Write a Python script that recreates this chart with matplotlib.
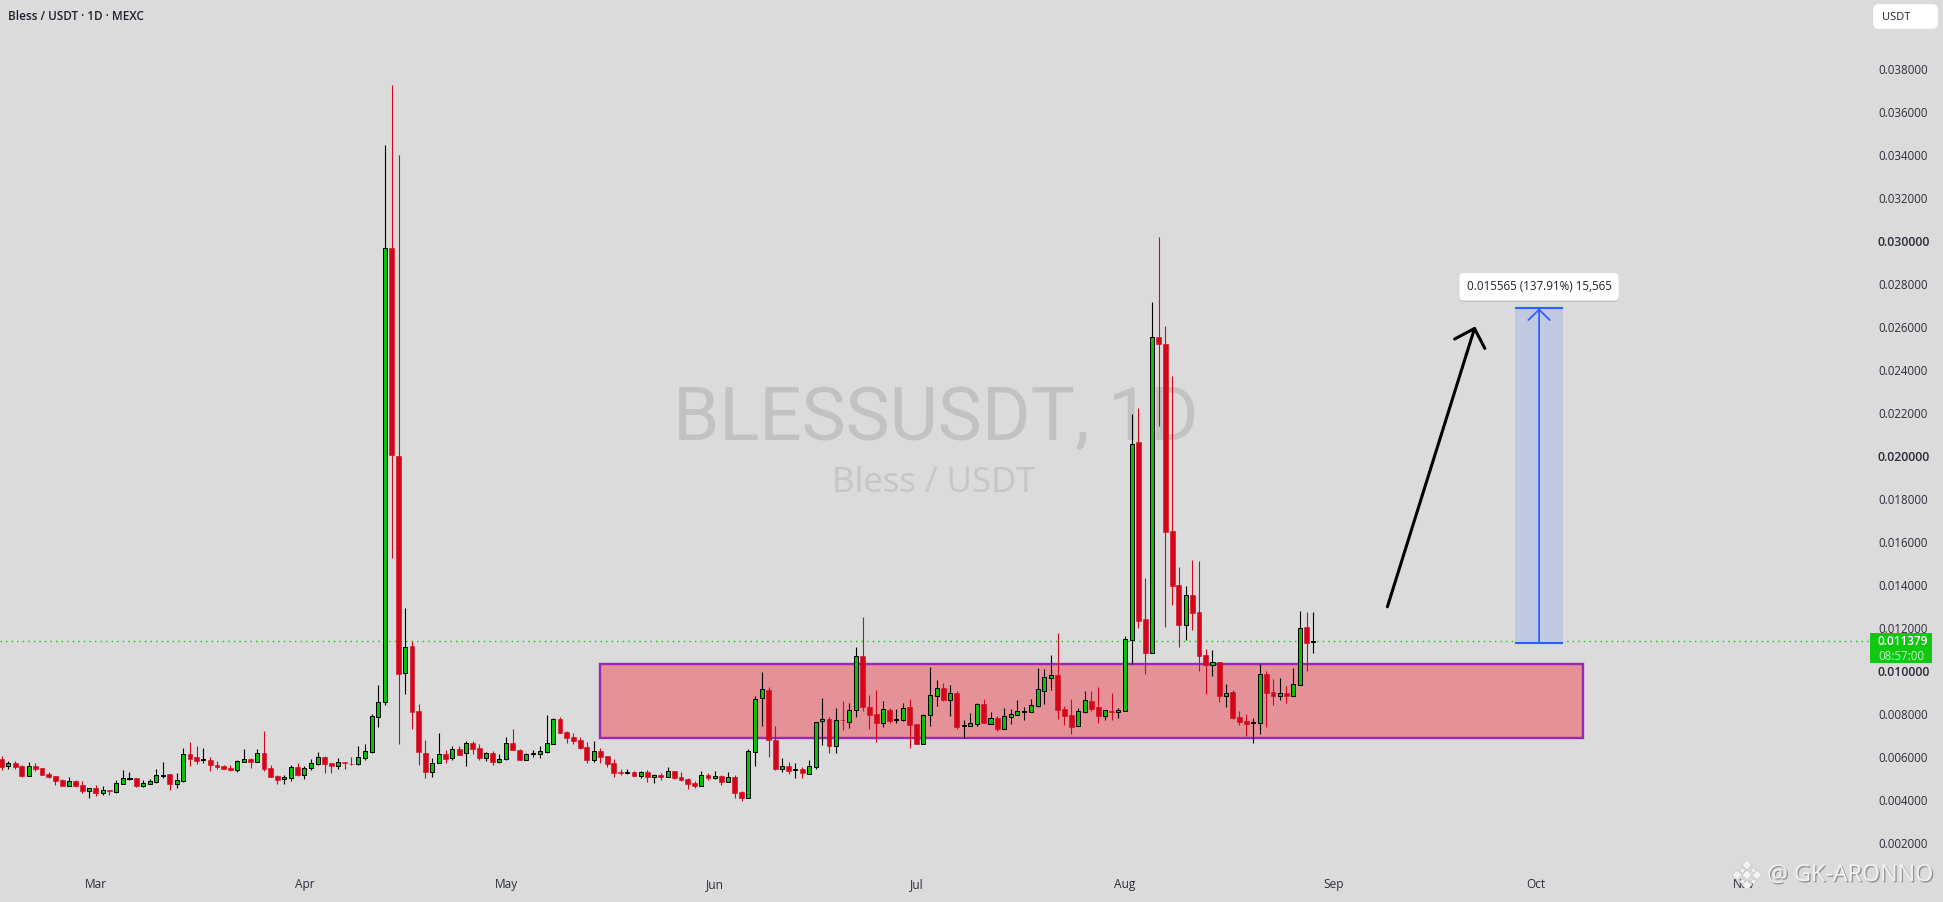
import matplotlib
matplotlib.use('Agg')
import matplotlib.pyplot as plt
import matplotlib.patheffects as pe
from matplotlib.patches import Rectangle, FancyBboxPatch
import numpy as np

plt.rcParams['font.family'] = ['Open Sans', 'DejaVu Sans']

# daily candles, prices in thousandths of USDT
highs = [
    6.03,5.78,5.78,5.60,5.74,5.69,5.47,5.29,5.10,4.95,
    5.06,4.90,4.87,4.53,4.68,4.64,4.44,4.90,5.37,5.29,
    5.01,4.90,4.95,5.41,5.75,5.20,5.23,6.39,6.67,6.50,
    6.40,5.97,5.78,5.60,5.60,5.83,6.36,5.92,6.34,7.20,
    5.60,5.13,5.13,5.60,5.71,5.55,5.89,6.20,6.02,5.71,
    5.92,5.74,5.99,6.50,6.59,7.97,9.33,34.44,37.24,33.98,
    12.92,11.39,8.46,6.78,5.96,7.10,6.31,6.52,6.48,6.75,
    6.73,6.59,6.20,6.26,6.11,6.92,7.29,6.34,6.16,6.30,
    6.50,7.94,7.80,7.85,7.20,7.10,6.90,6.68,6.73,6.40,
    6.03,5.88,5.43,5.43,5.34,5.34,5.38,5.20,5.24,5.52,
    5.34,5.29,5.01,4.87,5.34,5.24,5.34,5.15,5.29,5.15,
    4.40,6.34,8.82,9.94,9.24,7.43,5.94,5.75,5.71,5.52,
    5.85,7.61,8.73,7.85,8.26,8.59,8.50,11.10,12.50,8.85,
    9.08,8.59,8.26,8.22,8.50,8.68,7.52,7.97,10.17,9.56,
    9.42,9.33,9.06,7.71,8.03,8.50,8.68,8.08,7.88,8.26,
    8.22,8.64,8.31,8.68,10.12,10.08,10.73,11.75,8.36,8.68,
    8.26,9.05,9.05,9.24,8.17,8.96,8.26,11.61,21.94,22.21,
    14.30,27.14,30.17,26.02,23.70,14.81,13.93,15.15,15.10,11.00,
    10.96,10.41,9.39,9.10,8.12,8.00,7.80,10.32,9.98,9.61,
    9.66,9.29,10.12,12.78,12.74,12.74,
]
body_hi = [
    5.89,5.69,5.71,5.58,5.55,5.57,5.47,5.20,5.10,4.92,
    4.85,4.87,4.68,4.53,4.54,4.45,4.44,4.76,4.99,4.99,
    4.99,4.76,4.85,5.13,5.13,5.20,4.90,6.11,6.11,5.99,
    5.88,5.83,5.60,5.57,5.47,5.78,5.88,5.88,6.16,6.16,
    5.47,5.10,5.04,5.51,5.51,5.46,5.69,5.97,5.97,5.71,
    5.74,5.74,5.68,5.97,6.25,7.88,8.53,29.64,29.66,19.99,
    11.09,11.15,8.12,6.18,5.69,6.11,6.14,6.35,6.37,6.63,
    6.65,6.41,6.16,6.16,5.88,6.62,6.62,6.30,6.11,6.16,
    6.25,6.62,7.74,7.75,7.15,6.92,6.78,6.45,6.27,6.27,
    6.03,5.69,5.29,5.29,5.29,5.27,5.29,5.15,5.16,5.34,
    5.34,5.06,4.96,4.78,5.15,5.15,5.10,5.10,5.06,5.06,
    4.36,6.25,8.68,9.13,9.10,6.78,5.57,5.57,5.43,5.43,
    5.57,7.61,7.75,7.75,7.69,7.71,8.17,10.68,10.68,8.30,
    7.99,8.20,8.17,7.75,8.25,8.30,7.52,7.92,8.85,9.18,
    9.20,8.95,8.95,7.46,7.55,8.44,8.45,7.78,7.80,7.88,
    7.97,8.11,8.11,8.39,9.13,9.69,9.78,9.80,8.22,7.94,
    8.11,8.62,8.59,8.31,8.15,8.11,8.17,11.45,20.53,20.63,
    12.40,25.50,25.51,25.19,16.50,13.98,13.50,13.52,12.73,10.73,
    10.40,10.41,8.96,9.00,7.85,7.66,7.61,9.84,9.85,9.00,
    8.96,8.97,9.37,11.97,12.03,11.37,
]
body_lo = [
    5.54,5.55,5.52,5.12,5.12,5.41,5.15,5.06,4.89,4.64,
    4.65,4.65,4.41,4.42,4.31,4.31,4.42,4.36,4.75,4.96,
    4.64,4.65,4.75,4.84,5.10,4.73,4.75,4.89,5.89,5.80,
    5.86,5.61,5.52,5.43,5.38,5.40,5.77,5.77,5.77,5.43,
    5.06,4.92,4.95,5.02,5.15,5.17,5.49,5.68,5.66,5.57,
    5.58,5.72,5.65,5.66,5.95,6.23,7.86,8.53,20.05,9.83,
    9.87,8.06,6.20,5.28,5.30,5.69,5.90,5.92,6.07,6.16,
    6.37,5.95,5.95,5.75,5.77,5.88,6.31,5.86,5.86,6.14,
    6.14,6.20,6.61,7.10,6.87,6.73,6.40,5.85,5.85,5.99,
    5.66,5.24,5.26,5.26,5.10,5.10,5.06,5.07,5.06,5.06,
    5.01,4.92,4.73,4.64,4.65,5.01,5.02,4.82,4.82,4.31,
    4.08,4.08,6.22,8.75,6.78,5.43,5.43,5.34,5.40,5.24,
    5.20,5.52,7.64,6.50,6.50,7.69,7.61,8.17,8.30,7.94,
    7.57,7.58,7.66,7.69,7.71,7.47,6.59,6.61,7.92,8.84,
    8.64,8.65,7.38,7.44,7.44,7.54,7.57,7.54,7.29,7.30,
    7.86,7.95,8.09,8.09,8.37,9.07,9.67,8.17,7.89,7.38,
    7.44,8.09,8.22,7.89,7.91,8.09,8.09,8.14,11.41,12.33,
    10.83,10.84,25.19,16.45,13.94,12.13,12.14,12.69,10.69,10.28,
    10.28,8.83,8.84,7.80,7.61,7.53,7.58,7.58,8.97,8.83,
    8.84,8.83,8.84,9.35,11.29,11.32,
]
lows = [
    5.38,5.44,5.43,5.06,5.10,5.34,5.15,5.01,4.68,4.64,
    4.64,4.59,4.31,4.08,4.17,4.22,4.22,4.33,4.73,4.92,
    4.59,4.59,4.73,4.78,5.01,4.45,4.54,4.84,5.57,5.66,
    5.71,5.34,5.41,5.43,5.34,5.29,5.77,5.47,5.77,5.34,
    5.06,4.73,4.73,4.89,5.10,4.96,5.38,5.61,5.24,5.24,
    5.43,5.43,5.61,5.61,5.84,6.19,7.38,8.42,15.23,6.58,
    8.91,7.29,5.62,5.00,5.07,5.69,5.71,5.86,6.07,5.56,
    6.14,5.84,5.81,5.61,5.72,5.86,6.31,5.86,5.86,5.99,
    5.94,6.17,6.61,7.10,6.64,6.59,6.36,5.71,5.75,5.71,
    5.52,5.06,5.15,5.20,5.10,5.01,4.82,4.78,4.92,5.06,
    4.96,4.87,4.50,4.54,4.65,4.92,4.96,4.68,4.82,4.08,
    3.94,4.08,5.57,7.43,5.99,5.38,5.29,5.20,5.01,5.01,
    5.20,5.43,6.54,6.17,6.17,7.24,7.33,7.85,8.12,7.28,
    6.69,7.38,7.57,7.57,7.66,6.40,6.59,6.61,7.43,8.36,
    8.59,7.89,7.29,6.87,7.44,7.44,7.57,7.54,7.19,7.30,
    7.52,7.95,7.70,8.09,8.31,8.45,9.10,7.75,7.47,7.06,
    7.44,8.05,8.13,7.57,7.70,7.70,7.80,8.14,10.33,11.98,
    9.85,10.80,21.38,12.03,13.06,11.10,11.41,11.89,9.98,8.92,
    9.76,8.54,8.32,7.75,7.48,6.97,6.63,7.05,7.39,8.41,
    8.64,8.51,8.84,9.35,9.98,10.80,
]
# g = close above open, r = close below open
direction = (
    'rgrrgrrrrr' 'grrgrgrggg' 'rggggrggrr' 'grrrrggrgr'
    'rrggrgggrr' 'grrgggggrr' 'grrrggrgrg' 'rrgrggrrgg'
    'gggrrrrrgr' 'rrrgrgrgrg' 'rrrrgrgrgr' 'rgggrrgrgr'
    'gggrgrggrr' 'rgrggrrggg' 'rgrgggrgrg' 'gggggggrrr'
    'ggrrgrgggr' 'rgrrrrgrrr' 'grgrrrggrr' 'grggrg'
)

month_days = [14, 45, 75, 106, 136, 167, 198, 228, 259]
month_names = ['Mar', 'Apr', 'May', 'Jun', 'Jul', 'Aug', 'Sep', 'Oct', 'Nov']
price_ticks = [0.002, 0.004, 0.006, 0.008, 0.010, 0.012, 0.014, 0.016, 0.018, 0.020,
               0.022, 0.024, 0.026, 0.028, 0.030, 0.032, 0.034, 0.036, 0.038]
last_price = 0.011379
zone_days = [88.95, 235.1]
zone_prices = [0.00687, 0.01031]
target_days = [225.0, 232.1]
target_prices = [0.01129, 0.02685]
arrow_days = [206.0, 219.05]
arrow_prices = [0.01297, 0.02601]

# ------- colours
BG = '#DBDBDB'
UP = '#0CBF0C'
DOWN = '#D3061A'
BLUE = '#2962FF'
TXT = '#2A2E39'

fig = plt.figure(figsize=(19.43, 9.02), dpi=100, facecolor=BG)
ax = fig.add_axes([0, 0, 1, 1], facecolor=BG)
ax.set_xlim(-0.25, 288.6)
ax.set_ylim(-0.000758, 0.04119)
for s in ax.spines.values():
    s.set_visible(False)

# big symbol watermark sits below everything
ax.text(0.4815, 0.5122, 'BLESSUSDT, 1D', transform=ax.transAxes, fontsize=53.5, family='Roboto',
        color='#C2C2C2', ha='center', va='baseline', zorder=0)
ax.text(0.4805, 0.4645, 'Bless / USDT', transform=ax.transAxes, fontsize=25,
        color='#C6C6C6', ha='center', va='center', zorder=0)

# demand zone
ax.add_patch(Rectangle((zone_days[0], zone_prices[0]), zone_days[1] - zone_days[0],
                       zone_prices[1] - zone_prices[0], fc='#E59198', ec='#9C27B0',
                       lw=1.7, zorder=1))

# last price line
ax.plot([-0.25, 277.5], [last_price, last_price], color='#10C810', lw=1.0,
        ls=(0, (1, 3)), zorder=1.5)

# candles
x = np.arange(len(highs))
hi = np.array(highs) / 1000
top = np.array(body_hi) / 1000
bot = np.array(body_lo) / 1000
lo = np.array(lows) / 1000
up = np.array(list(direction)) == 'g'

ax.vlines(x[up], lo[up], hi[up], color='black', lw=0.8, zorder=2)
ax.vlines(x[~up], lo[~up], hi[~up], color=DOWN, lw=0.8, zorder=2)
ax.bar(x[up], (top - bot)[up], bottom=bot[up], width=0.6, color=UP, edgecolor='black',
       linewidth=0.72, zorder=3)
ax.bar(x[~up], (top - bot)[~up], bottom=bot[~up], width=0.72, color=DOWN, edgecolor=DOWN,
       linewidth=0.4, zorder=3)

# target box with arrow
ax.add_patch(Rectangle((target_days[0], target_prices[0]), target_days[1] - target_days[0],
                       target_prices[1] - target_prices[0], fc='#C0C8E2', ec='none', zorder=1.6))
ax.hlines(target_prices, target_days[0], target_days[1], color=BLUE, lw=1.5, zorder=2)
mid = sum(target_days) / 2
ax.annotate('', xy=(mid, target_prices[1]), xytext=(mid, target_prices[0]),
            arrowprops=dict(arrowstyle='->,head_length=0.75,head_width=0.77', color=BLUE, lw=1.3,
                            shrinkA=0, shrinkB=0), zorder=2)
lab = ax.text(mid, 0.02785, '0.015565 (137.91%) 15,565', fontsize=8.4, color='#1E222D',
              ha='center', va='center', zorder=6,
              bbox=dict(boxstyle='round,pad=0.62,rounding_size=0.35', fc='white', ec='none'))
lab.get_bbox_patch().set_path_effects([pe.SimplePatchShadow(offset=(0, -1), alpha=0.18),
                                       pe.Normal()])

# hand drawn black arrow
ax.annotate('', xy=(arrow_days[1], arrow_prices[1]), xytext=(arrow_days[0], arrow_prices[0]),
            arrowprops=dict(arrowstyle='->,head_length=1.15,head_width=1.14', color='black', lw=2.2,
                            shrinkA=0, shrinkB=0), zorder=4)

# axes labels live inside the picture
ax.set_yticks(price_ticks)
ax.set_yticklabels([f'{v:.6f}' for v in price_ticks])
ax.yaxis.tick_right()
ax.tick_params(axis='y', length=0, pad=-46.8, labelsize=8.3, labelcolor=TXT)
for v, t in zip(price_ticks, ax.get_yticklabels()):
    t.set_ha('left')
    if round(v * 1000) in (10, 20, 30):
        t.set_fontweight('semibold')
        t.set_fontsize(8.9)
ax.set_xticks(month_days)
ax.set_xticklabels(month_names)
ax.tick_params(axis='x', length=0, pad=-17, labelsize=8.6, labelcolor=TXT)

# header text
fig.text(8 / 1943, 1 - 16 / 902, 'Bless / USDT · 1D · MEXC', fontsize=8.5, fontweight='semibold',
         color='#1E222D', ha='left', va='center')

# currency tag, top right
fig.add_artist(FancyBboxPatch((1877 / 1943, 1 - 25 / 902), 57 / 1943, 17 / 902,
                              boxstyle='round,pad=0.002,rounding_size=0.003',
                              transform=fig.transFigure, fc='white', ec='none', mutation_aspect=2.15))
fig.text(1882 / 1943, 1 - 17.5 / 902, 'USDT', fontsize=8, color='#1E222D', ha='left', va='center')

# last price tag
fig.add_artist(Rectangle((1870 / 1943, 1 - 663 / 902), 62 / 1943, 30 / 902,
                         transform=fig.transFigure, fc='#12C712', ec='none'))
fig.text(1878 / 1943, 1 - 641.5 / 902, f'{last_price:.6f}', fontsize=8.5, fontweight='semibold',
         color='white', ha='left', va='center')
fig.text(1878 / 1943, 1 - 656 / 902, '08:57:00', fontsize=8.3, color='#BDF2BD', ha='left', va='center')

# author mark
mark = fig.text(1933 / 1943, 1 - 875 / 902, '@ GK-ARONNO', fontsize=16.8, color='#F2F2F2',
                ha='right', va='center')
mark.set_path_effects([pe.withSimplePatchShadow(offset=(1, -1), shadow_rgbFace='#777777', alpha=0.7)])
# small diamond logo next to the mark
for dx, dy, ms in [(0, -10, 5.5), (0, 10, 5.5), (-10, 0, 5.5), (10, 0, 5.5), (0, 0, 5.5),
                   (-5.5, -5.5, 3), (5.5, -5.5, 3), (-5.5, 5.5, 3), (5.5, 5.5, 3)]:
    fig.add_artist(plt.Line2D([(1747 + dx) / 1943], [1 - (875 + dy) / 902], marker='D', ms=ms,
                              color='#F2F2F2', mec='#B5B5B5', mew=0.3, transform=fig.transFigure))

fig.savefig('out.png', dpi=100, facecolor=BG)
